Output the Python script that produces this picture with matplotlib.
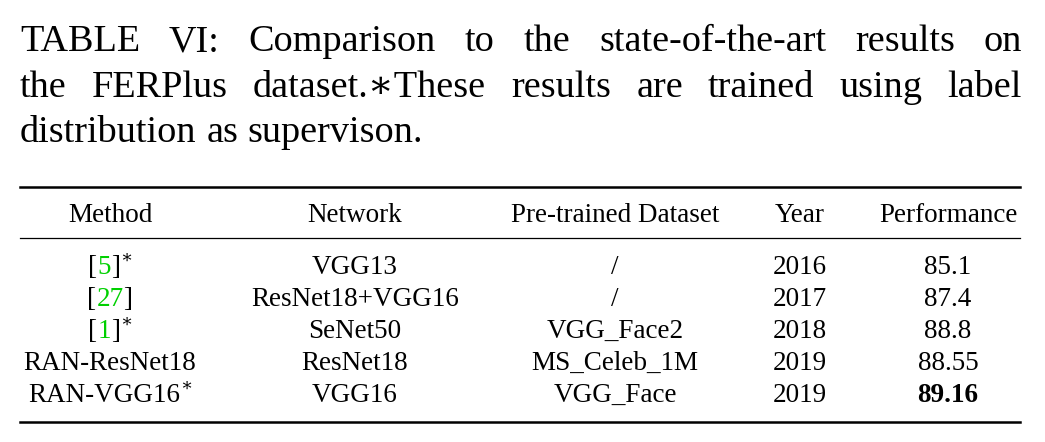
import matplotlib
matplotlib.use("Agg")
import matplotlib.pyplot as plt

caption_lines = [
    "TABLE VI: Comparison to the state-of-the-art results on",
    "the FERPlus dataset.\u2217These results are trained using label",
    "distribution as supervison.",
]
headers = ["Method", "Network", "Pre-trained Dataset", "Year", "Performance"]
methods = [[("[", "k"), ("5", "g"), ("]", "k"), ("\u2217", "sup")],
           [("[", "k"), ("27", "g"), ("]", "k")],
           [("[", "k"), ("1", "g"), ("]", "k"), ("\u2217", "sup")],
           [("RAN-ResNet18", "k")],
           [("RAN-VGG16", "k"), ("\u2217", "sup")]]
networks = ["VGG13", "ResNet18+VGG16", "SeNet50", "ResNet18", "VGG16"]
datasets = ["/", "/", "VGG_Face2", "MS_Celeb_1M", "VGG_Face"]
years = ["2016", "2017", "2018", "2019", "2019"]
perf = ["85.1", "87.4", "88.8", "88.55", "89.16"]

W, H = 1045, 442
fig = plt.figure(figsize=(W/100, H/100), dpi=100)
ax = fig.add_axes([0, 0, 1, 1])
ax.set_xlim(0, W); ax.set_ylim(H, 0); ax.axis("off")
fig.canvas.draw()
r = fig.canvas.get_renderer()
FONT = ["Liberation Serif", "DejaVu Serif"]
GREEN = "#00d000"

def width(t):
    return t.get_window_extent(renderer=r).width

cap_size = 27.5
ys = [42, 88, 133]
left, right = 20, 1022
tmp1 = ax.text(0, 0, "a a", fontsize=cap_size, family=FONT)
tmp2 = ax.text(0, 0, "aa", fontsize=cap_size, family=FONT)
nat_gap = width(tmp1) - width(tmp2)
tmp1.remove(); tmp2.remove()
for i, line in enumerate(caption_lines):
    words = line.split(" ")
    ts = [ax.text(0, ys[i], w, fontsize=cap_size, family=FONT, va="center") for w in words]
    ws = [width(t) for t in ts]
    gap = (right - left - sum(ws)) / (len(words) - 1) if i < 2 else nat_gap
    x = left
    for t, w in zip(ts, ws):
        t.set_x(x); x += w + gap

ax.plot([20, 1020], [187, 187], color="k", lw=1.8)
ax.plot([20, 1020], [238, 238], color="k", lw=0.9)
ax.plot([20, 1020], [422, 422], color="k", lw=1.8)

xs = [110, 355, 615, 800, 948]
ts_ = 19.5
for x, h in zip(xs, headers):
    ax.text(x, 215, h, fontsize=ts_, family=FONT, ha="center", va="center")

row_y = [267, 299, 331, 363, 395]

def pieces(x, y, parts):
    objs = []
    for txt, kind in parts:
        if kind == "sup":
            t = ax.text(0, y - 9, txt, fontsize=13, family=FONT, va="center")
        else:
            t = ax.text(0, y, txt, fontsize=ts_, family=FONT, va="center",
                        color=GREEN if kind == "g" else "k")
        objs.append(t)
    ws = [width(o) for o in objs]
    cx = x - sum(ws) / 2
    for o, w in zip(objs, ws):
        o.set_x(cx); cx += w

for i, y in enumerate(row_y):
    pieces(xs[0], y, methods[i])
    ax.text(xs[1], y, networks[i], fontsize=ts_, family=FONT, ha="center", va="center")
    ax.text(xs[2], y, datasets[i], fontsize=ts_, family=FONT, ha="center", va="center")
    ax.text(xs[3], y, years[i], fontsize=ts_, family=FONT, ha="center", va="center")
    ax.text(xs[4], y, perf[i], fontsize=ts_, family=FONT, ha="center", va="center",
            weight="bold" if i == 4 else "normal")

fig.savefig("out.png", dpi=100)
